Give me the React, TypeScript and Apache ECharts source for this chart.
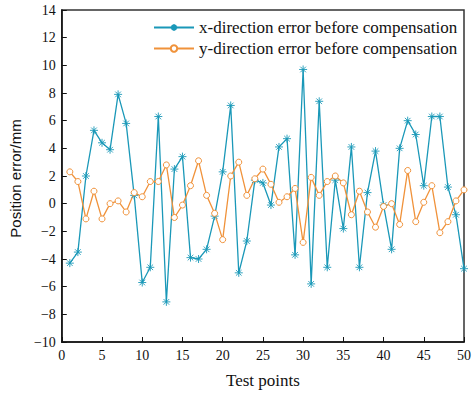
import React, { useEffect, useRef } from "react";
import * as echarts from "echarts";

const testPoints = Array.from({ length: 50 }, (_, i) => i + 1);
const xError = [
  -4.3, -3.5, 2.0, 5.3, 4.4, 3.9, 7.9, 5.8, 0.6, -5.7,
  -4.6, 6.3, -7.1, 2.5, 3.4, -3.9, -4.0, -3.3, -0.9, 2.3,
  7.1, -5.0, -2.7, 1.7, 1.5, -0.1, 4.1, 4.7, -3.7, 9.7,
  -5.8, 7.4, -4.6, 1.7, -1.8, 4.1, -4.6, 0.8, 3.8, -0.1,
  -3.3, 4.0, 6.0, 5.0, 1.3, 6.3, 6.3, 1.2, -0.8, -4.7,
];
const yError = [
  2.3, 1.6, -1.1, 0.9, -1.1, 0.0, 0.2, -0.6, 0.8, 0.5,
  1.6, 1.6, 2.8, -1.0, -0.1, 1.3, 3.1, 0.6, -0.7, -2.6,
  2.0, 3.0, 0.6, 1.8, 2.5, 1.4, 0.1, 0.5, 1.1, -2.8,
  1.9, 0.6, 1.6, 2.0, 1.5, -0.8, 0.9, -0.6, -1.7, -0.2,
  0.0, -1.5, 2.4, -1.3, 0.1, 1.3, -2.1, -1.3, 0.2, 1.0,
];
const seriesNames = [
  "x-direction error before compensation",
  "y-direction error before compensation",
];

const CYAN = "#1a98b8";
const ORANGE = "#f0923a";
const SERIF = "Liberation Serif";
const SANS = "Liberation Sans";
const asterisk =
  "path://M5,0L5,10M0,5L10,5M1.5,1.5L8.5,8.5M1.5,8.5L8.5,1.5";

export default function App() {
  const ref = useRef<HTMLDivElement>(null);
  useEffect(() => {
    if (!ref.current) return;
    const chart = echarts.init(ref.current, null, { renderer: "svg" });
    const fmt = (v: number) => String(v).replace("-", "\u2212");
    chart.setOption({
      animation: false,
      backgroundColor: "#fff",
      textStyle: { fontFamily: SERIF },
      grid: {
        left: 51,
        top: 10,
        right: 8,
        bottom: 51,
        show: true,
        borderColor: "#333",
        borderWidth: 1.5,
        containLabel: false,
      },
      legend: {
        orient: "vertical",
        left: 148,
        top: 14,
        itemWidth: 40,
        itemHeight: 8,
        itemGap: 4,
        textStyle: { fontFamily: SERIF, fontSize: 17, color: "#111" },
        data: seriesNames,
      },
      xAxis: {
        type: "value",
        min: 0,
        max: 50,
        interval: 5,
        name: "Test points",
        nameLocation: "middle",
        nameGap: 30,
        nameTextStyle: { fontFamily: SERIF, fontSize: 17, color: "#111" },
        axisLine: { onZero: false, lineStyle: { color: "#111", width: 1.5 } },
        axisTick: { inside: true, length: 5, lineStyle: { color: "#111" } },
        axisLabel: { fontFamily: SERIF, fontSize: 14, color: "#111", margin: 6, formatter: fmt },
        splitLine: { show: false },
      },
      yAxis: {
        type: "value",
        min: -10,
        max: 14,
        interval: 2,
        name: "Position error/mm",
        nameLocation: "middle",
        nameGap: 32,
        nameTextStyle: { fontFamily: SANS, fontSize: 15, color: "#111", padding: [0, 5, 0, 0] },
        axisLine: { show: true, onZero: false, lineStyle: { color: "#111", width: 1.5 } },
        axisTick: { show: true, inside: true, length: 5, lineStyle: { color: "#111" } },
        axisLabel: { fontFamily: SERIF, fontSize: 14, color: "#111", margin: 6, formatter: fmt },
        splitLine: { show: false },
      },
      series: [
        {
          name: seriesNames[0],
          type: "line",
          data: testPoints.map((x, i) => [x, xError[i]]),
          symbol: asterisk,
          symbolSize: 8,
          showAllSymbol: true,
          lineStyle: { color: CYAN, width: 1.3 },
          itemStyle: { color: CYAN, borderColor: CYAN, borderWidth: 0.9 },
        },
        {
          name: seriesNames[1],
          type: "line",
          data: testPoints.map((x, i) => [x, yError[i]]),
          symbol: "circle",
          symbolSize: 6,
          showAllSymbol: true,
          lineStyle: { color: ORANGE, width: 1.3 },
          itemStyle: { color: "#fff", borderColor: ORANGE, borderWidth: 1 },
        },
      ],
    });
    return () => chart.dispose();
  }, []);
  return <div ref={ref} style={{ width: 474, height: 394, position: "absolute", left: 0, top: 0 }} />;
}
